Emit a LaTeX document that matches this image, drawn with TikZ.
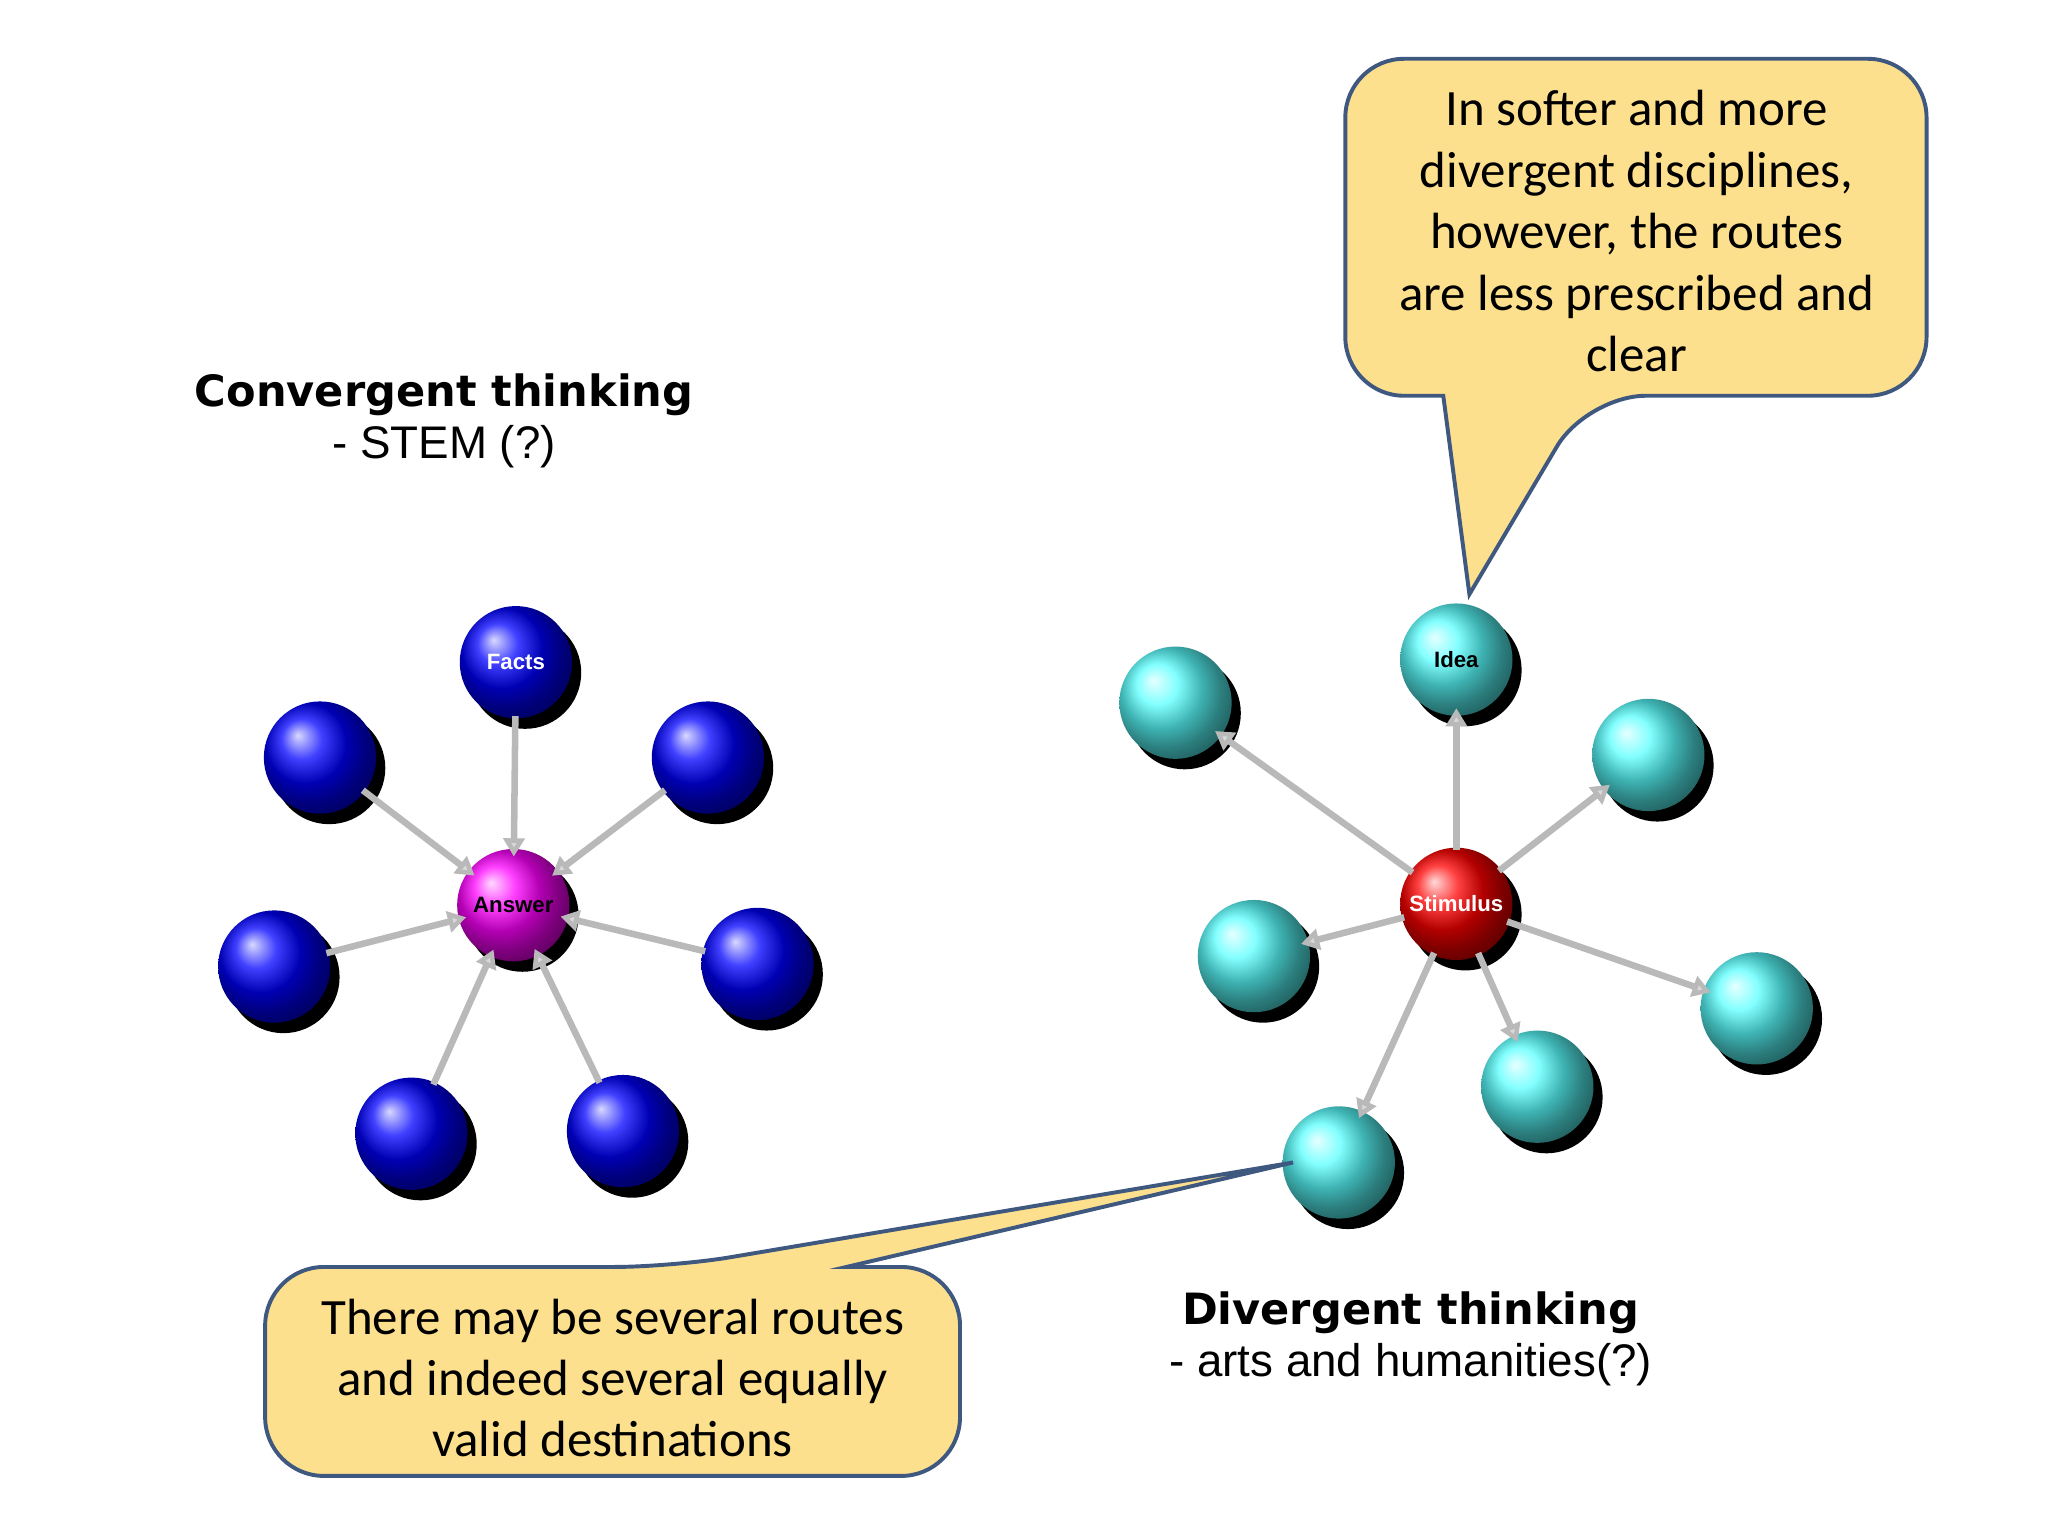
\documentclass[tikz,border=0pt]{standalone}
\usepackage{fontspec}
\setmainfont{Liberation Sans}
\newfontfamily\callfont{Carlito}
\newfontfamily\titlefont{DejaVu Sans}
\usetikzlibrary{arrows.meta,shadings,calc}
\definecolor{callfill}{RGB}{253,224,141}
\definecolor{callline}{RGB}{62,88,128}
\tikzset{
  ball/.style={circle,minimum size=86pt,inner sep=0pt,font=\bfseries\fontsize{17}{20}\selectfont},
  conn/.style={draw=gray!55,line width=5pt,-{Triangle[length=14pt,width=16pt,fill=gray!30]}},
  callout/.style={fill=callfill,draw=callline,line width=3pt},
  calltext/.style={align=center,font=\callfont\fontsize{39}{47}\selectfont}
}
\newcommand{\myball}[4]{% name, pos, color, label
  \fill[black] ($(#2)+(7,8)$) circle (43);
  \node[ball,ball color=#3] (#1) at (#2) {#4};
}
\begin{document}
\begin{tikzpicture}[x=1pt,y=-1pt]
\useasboundingbox (0,0) rectangle (1568,1176);
\fill[white] (0,0) rectangle (1568,1176);
% left cluster
\myball{facts}{395,507}{blue}{\textcolor{white}{Facts}}
\myball{l1}{245,580}{blue}{}
\myball{l2}{542,580}{blue}{}
\myball{l3}{210,740}{blue}{}
\myball{l4}{580,738}{blue}{}
\myball{l5}{315,868}{blue}{}
\myball{l6}{477,866}{blue}{}
\myball{answer}{393,693}{magenta}{Answer}
\foreach \n in {facts,l1,l2,l3,l4,l5,l6}
  \draw[conn,shorten <=-2pt,shorten >=-6pt] (\n) -- (answer);
% right cluster
\myball{idea}{1115,505}{cyan!65!white}{Idea}
\myball{r1}{900,538}{cyan!65!white}{}
\myball{r2}{1262,578}{cyan!65!white}{}
\myball{r3}{960,732}{cyan!65!white}{}
\myball{r4}{1345,772}{cyan!65!white}{}
\myball{r5}{1177,832}{cyan!65!white}{}
\myball{r6}{1025,890}{cyan!65!white}{}
\myball{stim}{1115,692}{red}{\textcolor{white}{Stimulus}}
\foreach \n in {idea,r1,r2,r3,r4,r5,r6}
  \draw[conn,shorten <=-2pt,shorten >=-6pt] (stim) -- (\n);
% titles
\node[align=center] (ct) at (340,322) {{\titlefont\bfseries\fontsize{33}{40}\selectfont Convergent thinking}\\[6pt]{\fontsize{35}{40}\selectfont - STEM (?)}};
\node[align=center] (dt) at (1080,1025) {{\titlefont\bfseries\fontsize{33}{40}\selectfont Divergent thinking}\\[6pt]{\fontsize{35}{40}\selectfont - arts and humanities(?)}};
% top callout
\draw[callout,rounded corners=45] (1105,303) -- (1030,303) -- (1030,45) -- (1475,45) -- (1475,303) -- (1215,303) [sharp corners] -- (1125,455) -- cycle;
\node[calltext] (tc) at (1253,177) {In softer and more\\divergent disciplines,\\however, the routes\\are less prescribed and\\clear};
% bottom callout
\coordinate (tip) at (990,890);
\draw[callout,rounded corners=45] (648,970) -- (735,970) -- (735,1130) -- (203,1130) -- (203,970) -- (515,970) [sharp corners] -- (tip) -- cycle;
\node[calltext] (bc) at (469,1055) {There may be several routes\\and indeed several equally\\valid destinations};
\end{tikzpicture}
\end{document}
